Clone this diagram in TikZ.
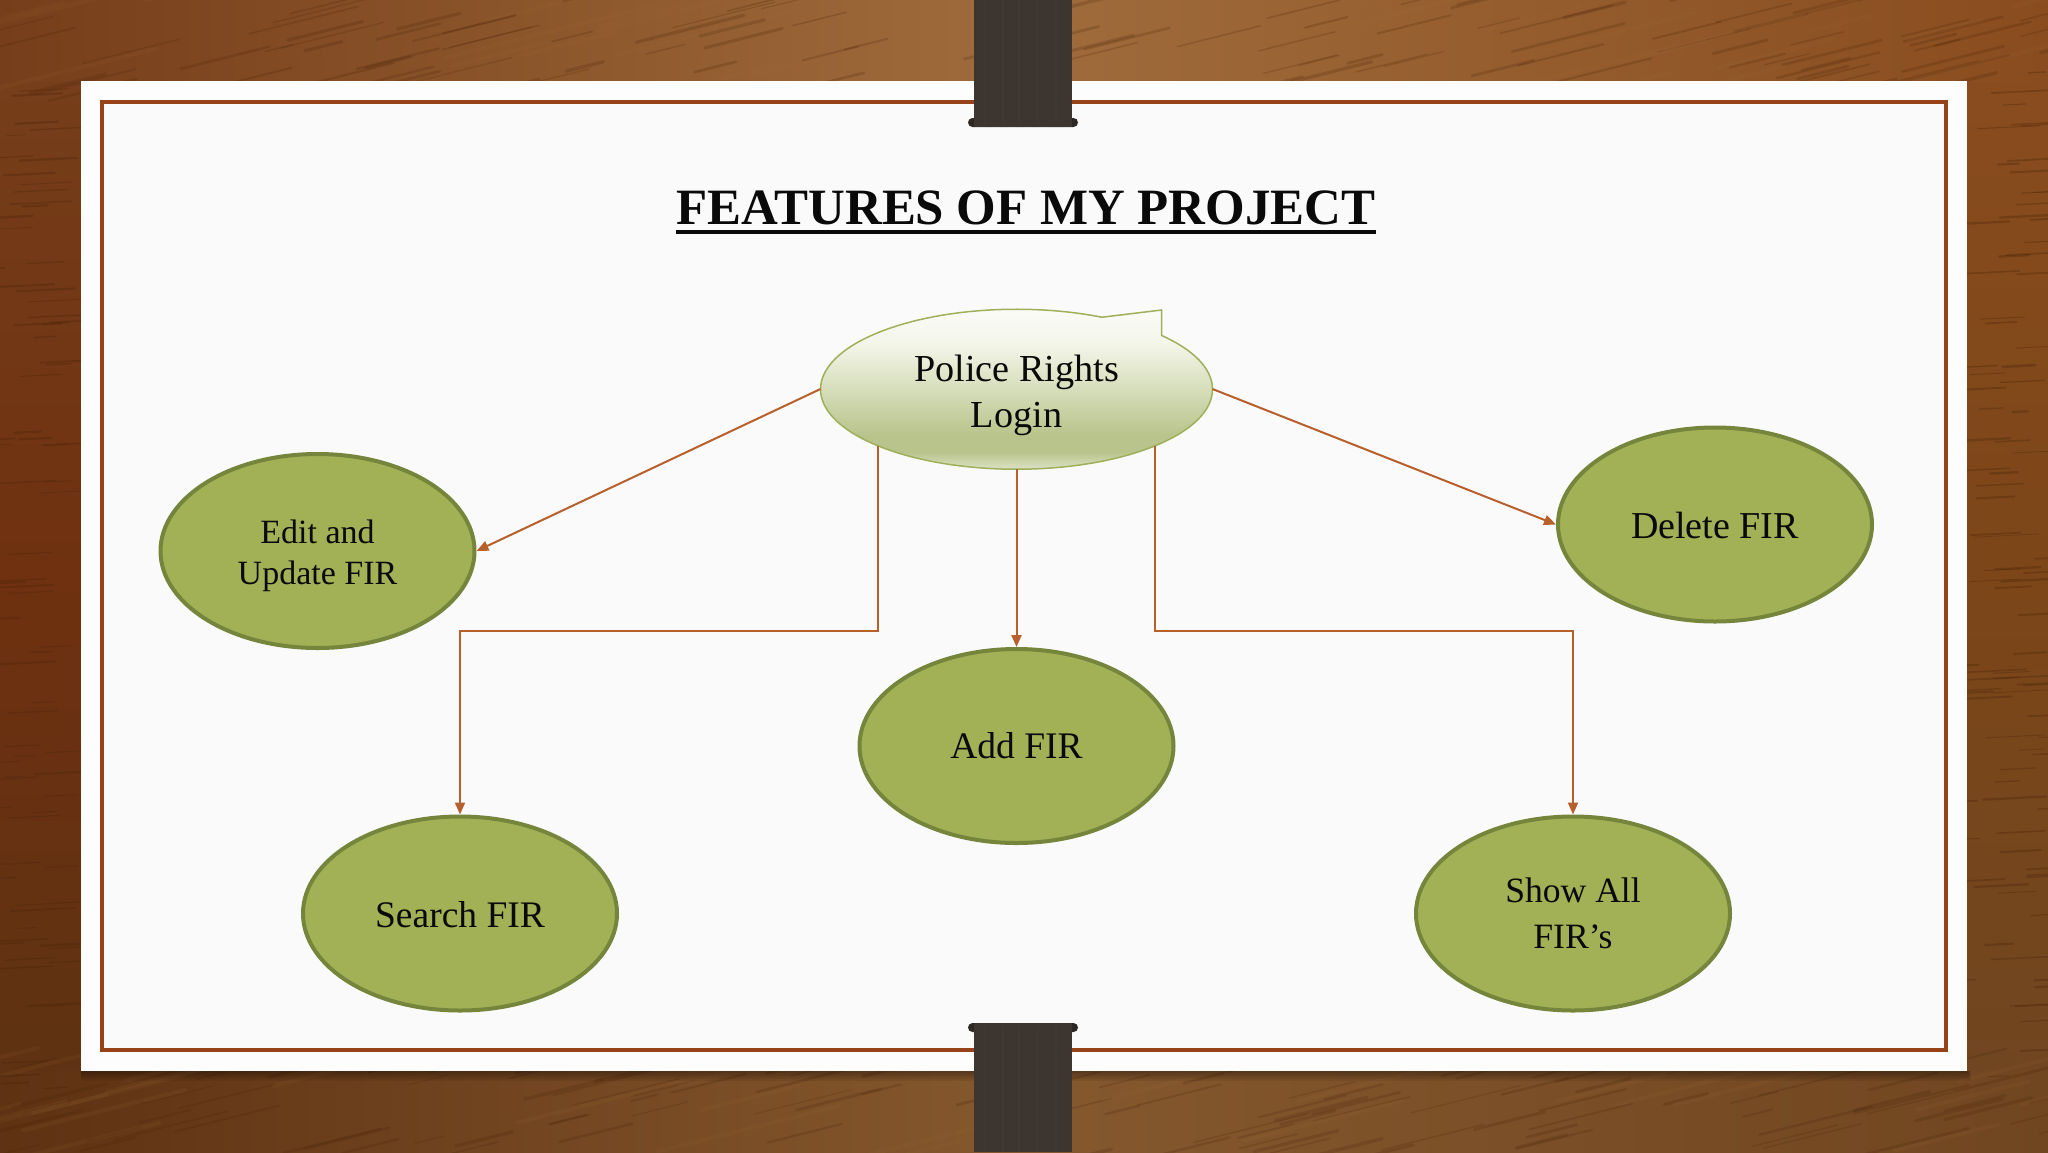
\documentclass[tikz,border=0pt]{standalone}
\usepackage{fontspec}
\setmainfont{Liberation Serif}
\usetikzlibrary{shapes.geometric,arrows.meta,calc}
\definecolor{topL}{HTML}{763E1A}
\definecolor{topM}{HTML}{A06C3C}
\definecolor{topR}{HTML}{894C1E}
\definecolor{botL}{HTML}{5E3212}
\definecolor{botM}{HTML}{85582E}
\definecolor{botR}{HTML}{704620}
\definecolor{leftM}{HTML}{6F3110}
\definecolor{rightM}{HTML}{7C4618}
\definecolor{grainDark}{HTML}{4A2409}
\definecolor{grainLight}{HTML}{A06A3A}
\definecolor{paperOuter}{HTML}{FDFDFD}
\definecolor{paperInner}{HTML}{FAFAFA}
\definecolor{frameRust}{HTML}{98421A}
\definecolor{strapDark}{HTML}{3D3530}
\definecolor{strapLine}{HTML}{4A403A}
\definecolor{earDark}{HTML}{2E2824}
\definecolor{oliveFill}{HTML}{A2B056}
\definecolor{oliveEdge}{HTML}{75863C}
\definecolor{policeEdge}{HTML}{9FB05A}
\definecolor{linkRust}{HTML}{B8602C}
\definecolor{inkBlack}{HTML}{0A0A0A}
\definecolor{gA}{HTML}{FBFCF8}
\definecolor{gB}{HTML}{F3F5E8}
\definecolor{gC}{HTML}{B8C48B}
\definecolor{gD}{HTML}{E2E7CF}
\tikzset{
  featurenode/.style={ellipse,draw=oliveEdge,fill=oliveFill,line width=4pt,minimum width=314pt,minimum height=194pt,inner sep=0pt,align=center,text=inkBlack},
  labeltext/.style={inner sep=0pt,align=center,text=inkBlack},
  policeanchor/.style={ellipse,minimum width=392pt,minimum height=160pt,inner sep=0pt,outer sep=0pt},
  linkline/.style={draw=linkRust,line width=2pt,-{Triangle[length=12pt,width=10pt]}},
  strapbody/.style={fill=strapDark,draw=none},
  strapear/.style={fill=earDark,draw=none,rounded corners=4.5pt},
  titlestyle/.style={inner sep=0pt,text=inkBlack,font=\fontsize{50.9}{60}\bfseries\selectfont}
}
\newcommand{\policeoutline}{(1161.7,335.5) arc[start angle=-42.2,end angle=295.8,x radius=196,y radius=80] -- (1161.7,310) -- cycle}
\begin{document}
\begin{tikzpicture}[x=1pt,y=-1pt]
\useasboundingbox (0,0) rectangle (2048,1152);
\begin{scope}
\clip (0,0) rectangle (2048,1152);
% wood: bands round the paper
\shade[left color=topL,right color=topM] (0,0) rectangle (1024.5,82);
\shade[left color=topM,right color=topR] (1024,0) rectangle (2048,82);
\shade[left color=botL,right color=botM] (0,1070) rectangle (1024.5,1152);
\shade[left color=botM,right color=botR] (1024,1070) rectangle (2048,1152);
\shade[top color=topL,bottom color=leftM] (0,82) rectangle (82,576.5);
\shade[top color=leftM,bottom color=botL] (0,576) rectangle (82,1070);
\shade[top color=topR,bottom color=rightM] (1966,82) rectangle (2048,576.5);
\shade[top color=rightM,bottom color=botR] (1966,576) rectangle (2048,1070);
\pgfmathsetseed{4217}
% grain above and below the paper
\foreach \i in {1,...,240}{
  \pgfmathsetmacro{\xa}{rnd*2200-100}
  \pgfmathsetmacro{\ya}{rnd*110}
  \pgfmathsetmacro{\yb}{(rnd<0.5 ? \ya : \ya+1050)}
  \pgfmathsetmacro{\len}{25+rnd*90}
  \pgfmathsetmacro{\wid}{1+rnd*2.5}
  \draw[grainDark,opacity=.22,line width=\wid pt,line cap=round] (\xa,\yb) -- ++(\len,-0.25*\len);
}
\foreach \i in {1,...,70}{
  \pgfmathsetmacro{\xa}{rnd*2200-100}
  \pgfmathsetmacro{\ya}{rnd*110}
  \pgfmathsetmacro{\yb}{(rnd<0.5 ? \ya : \ya+1050)}
  \pgfmathsetmacro{\len}{60+rnd*160}
  \draw[grainLight,opacity=.12,line width=4pt,line cap=round] (\xa,\yb) -- ++(\len,-0.25*\len);
}
% grain beside the paper
\foreach \i in {1,...,170}{
  \pgfmathsetmacro{\ya}{70+rnd*1020}
  \pgfmathsetmacro{\xa}{(rnd<0.5 ? rnd*80-30 : 1950+rnd*90)}
  \pgfmathsetmacro{\len}{15+rnd*50}
  \pgfmathsetmacro{\wid}{0.8+rnd*1.6}
  \draw[grainDark,opacity=.33,line width=\wid pt,line cap=round] (\xa,\ya) -- ++(\len,-0.05*\len);
}
\end{scope}
% soft shadow under the paper
\foreach \d in {2,4,6,8,10}{
  \fill[black,opacity=.07] (81,1071) rectangle (1967+\d*0.4,1071+\d);
}
% paper
\fill[paperOuter] (81,81) rectangle (1967,1071);
\fill[paperInner] (104,104) rectangle (1944,1048);
\draw[frameRust,line width=4.5pt] (102,102) rectangle (1946,1050);
% straps
\fill[strapear] (968,118) rectangle (1078,127);
\fill[strapbody] (974,0) rectangle (1072,127);
\fill[strapear] (968,1023) rectangle (1078,1032);
\fill[strapbody] (974,1023) rectangle (1072,1152);
\foreach \sx in {985,1003,1019,1038,1056}{
  \draw[strapLine,line width=2pt,opacity=.25] (\sx,0) -- (\sx,125);
  \draw[strapLine,line width=2pt,opacity=.2] (\sx,1025) -- (\sx,1152);
}
% title
\node[titlestyle,anchor=base] (title) at (1026,224) {FEATURES OF MY PROJECT};
\draw[inkBlack,line width=3.4pt] ($(title.base west)+(0,8)$) -- ($(title.base east)+(0,8)$);
% police shape
\begin{scope}
\clip \policeoutline;
\shade[top color=gA,bottom color=gB] (800,305) rectangle (1230,345.5);
\shade[top color=gB,bottom color=gC] (800,345) rectangle (1230,435.5);
\fill[gC] (800,435) rectangle (1230,452.5);
\shade[top color=gC,bottom color=gD] (800,452) rectangle (1230,472);
\end{scope}
\draw[policeEdge,line width=1.5pt] \policeoutline;
\node[policeanchor,label={[labeltext,yshift=-6.5pt,font=\fontsize{38.2}{46}\selectfont]center:Police Rights\\Login}] (police) at (1016.5,389) {};
% features
\node[featurenode,label={[labeltext,yshift=-4.5pt,font=\fontsize{34}{41}\selectfont]center:Edit and\\Update FIR}] (edit) at (317.5,551) {};
\node[featurenode,label={[labeltext,yshift=-1.3pt,font=\fontsize{38}{46}\selectfont]center:Delete FIR}] (delete) at (1715,524.5) {};
\node[featurenode,font=\fontsize{37.5}{46}\selectfont] (add) at (1016.5,746) {Add FIR};
\node[featurenode,label={[labeltext,yshift=-1.3pt,font=\fontsize{37.5}{46}\selectfont]center:Search FIR}] (search) at (460,913.5) {};
\node[featurenode,font=\fontsize{35.6}{46}\selectfont] (show) at (1573,913.5) {Show All\\FIR’s};
\coordinate (stubL) at (878,445.5);
\coordinate (stubR) at (1155,445.5);
\coordinate (busL) at (460,631);
\coordinate (busR) at (1573,631);
\draw[linkline] (police.west) -- (edit.east);
\draw[linkline] (police.east) -- (delete.west);
\draw[linkline] (police.south) -- (add.north);
\draw[linkline] (stubL) |- (busL) -- (search.north);
\draw[linkline] (stubR) |- (busR) -- (show.north);
\end{tikzpicture}
\end{document}
